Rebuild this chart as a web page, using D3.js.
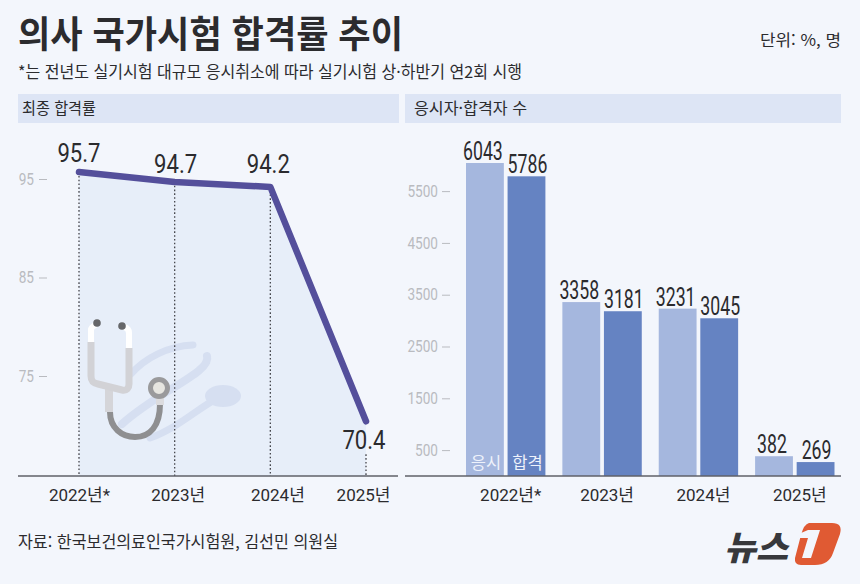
<!DOCTYPE html>
<html lang="ko">
<head>
<meta charset="utf-8">
<script src="https://cdn.jsdelivr.net/npm/d3@7"></script>
<style>
  html, body { margin: 0; padding: 0; background: #f3f6fc; }
  svg { display: block; }
  text { font-family: "Noto Sans CJK KR", "Noto Sans", sans-serif; }
  .num { font-family: Roboto, sans-serif; }
</style>
</head>
<body>
<div id="chart"></div>
<script>
// data
var rateYears = ["2022년*", "2023년", "2024년", "2025년"];
var rateValues = [95.7, 94.7, 94.2, 70.4];
var rateTicks = [75, 85, 95];

var countYears = ["2022년*", "2023년", "2024년", "2025년"];
var seriesNames = ["응시", "합격"];
var appliedValues = [6043, 3358, 3231, 382];
var passedValues = [5786, 3181, 3045, 269];
var countTicks = [500, 1500, 2500, 3500, 4500, 5500];

var width = 860, height = 584;
var baseY = 476;
var inkColor = "#2b2b2e", tickColor = "#b9bbc0", axisColor = "#5f6068";
var appliedColor = "#a5b7de", passedColor = "#6583c2";

var svg = d3.select("#chart").append("svg")
  .attr("width", width).attr("height", height)
  .attr("viewBox", "0 0 " + width + " " + height);

// squeeze text to a share of its natural width, the source uses a condensed face
function squeeze(sel, factor) {
  sel.each(function() {
    d3.select(this).attr("lengthAdjust", "spacingAndGlyphs")
      .attr("textLength", this.getComputedTextLength() * factor);
  });
}
function fitTo(sel, w) {
  sel.attr("lengthAdjust", "spacingAndGlyphs").attr("textLength", w);
}

// headings
svg.append("text").attr("x", 18).attr("y", 48)
  .attr("font-size", 37).attr("font-weight", 700).attr("fill", inkColor)
  .text("의사 국가시험 합격률 추이").call(fitTo, 385);
svg.append("text").attr("x", 760).attr("y", 46)
  .attr("font-size", 16).attr("fill", inkColor).text("단위: %, 명").call(fitTo, 81);
svg.append("text").attr("x", 18).attr("y", 78)
  .attr("font-size", 16.5).attr("fill", inkColor)
  .text("*는 전년도 실기시험 대규모 응시취소에 따라 실기시험 상·하반기 연2회 시행").call(fitTo, 504);

svg.append("rect").attr("x", 18).attr("y", 94).attr("width", 381).attr("height", 29).attr("fill", "#dde5f5");
svg.append("rect").attr("x", 405).attr("y", 94).attr("width", 436).attr("height", 29).attr("fill", "#dde5f5");
svg.append("text").attr("x", 22).attr("y", 114).attr("font-size", 16).attr("fill", inkColor).text("최종 합격률").call(fitTo, 74);
svg.append("text").attr("x", 414).attr("y", 114).attr("font-size", 16).attr("fill", inkColor).text("응시자·합격자 수").call(fitTo, 113);

// left panel: line
var xRate = d3.scalePoint().domain(rateYears).range([79, 366]);
var yRate = d3.scaleLinear().domain([95, 75]).range([179, 376]);
var rateRows = rateYears.map(function(y, i) { return {year: y, value: rateValues[i]}; });

var area = d3.area()
  .x(function(d) { return xRate(d.year); })
  .y0(baseY)
  .y1(function(d) { return yRate(d.value); });
svg.append("path").datum(rateRows).attr("d", area).attr("fill", "#e7eef9");

drawStethoscope();

svg.selectAll(".drop").data(rateRows).enter().append("line")
  .attr("class", "drop")
  .attr("x1", function(d) { return xRate(d.year); })
  .attr("x2", function(d) { return xRate(d.year); })
  .attr("y1", function(d, i) { return i == 3 ? yRate(d.value) + 33 : yRate(d.value); })
  .attr("y2", baseY)
  .attr("stroke", "#45464c").attr("stroke-width", 1.3).attr("stroke-dasharray", "1.6 2.2");

var line = d3.line()
  .x(function(d) { return xRate(d.year); })
  .y(function(d) { return yRate(d.value); });
svg.append("path").datum(rateRows).attr("d", line)
  .attr("fill", "none").attr("stroke", "#544f9b").attr("stroke-width", 6.5)
  .attr("stroke-linecap", "round").attr("stroke-linejoin", "round");

var rateGap = [10, 9, 14, -28];
var rateNudge = [0, 1, -2, -2];
svg.selectAll(".rate-label").data(rateRows).enter().append("text")
  .attr("class", "num rate-label")
  .attr("x", function(d, i) { return xRate(d.year) + rateNudge[i]; })
  .attr("y", function(d, i) { return yRate(d.value) - rateGap[i]; })
  .attr("text-anchor", "middle").attr("font-size", 26).attr("fill", inkColor)
  .text(function(d) { return d.value.toFixed(1); })
  .call(squeeze, 0.85);

var leftAxis = svg.append("g").attr("transform", "translate(47,0)")
  .call(d3.axisLeft(yRate).tickValues(rateTicks).tickSize(8).tickPadding(5));
styleValueAxis(leftAxis);

var bottomLeft = svg.append("g").attr("transform", "translate(0," + baseY + ")")
  .call(d3.axisBottom(xRate).tickSize(0).tickPadding(13));
styleYearAxis(bottomLeft, 18, 398);
var leftLabelNudge = [0, 3, 7, -3];
bottomLeft.selectAll(".tick text").attr("dx", function(d, i) { return leftLabelNudge[i]; });

// right panel: grouped bars
var xCount = d3.scaleBand().domain(countYears).range([466, 834.5]).paddingInner(0.176);
var xSeries = d3.scaleBand().domain(seriesNames).range([0, xCount.bandwidth()]).paddingInner(0.09);
var yCount = d3.scaleLinear().domain([0, 6043]).range([baseY, 163]);

var countRows = countYears.map(function(y, i) {
  return {year: y, values: [
    {name: seriesNames[0], value: appliedValues[i], color: appliedColor},
    {name: seriesNames[1], value: passedValues[i], color: passedColor}
  ]};
});

var groups = svg.selectAll(".group").data(countRows).enter().append("g")
  .attr("class", "group")
  .attr("transform", function(d) { return "translate(" + xCount(d.year) + ",0)"; });

groups.selectAll("rect").data(function(d) { return d.values; }).enter().append("rect")
  .attr("x", function(d) { return xSeries(d.name); })
  .attr("y", function(d) { return yCount(d.value); })
  .attr("width", xSeries.bandwidth())
  .attr("height", function(d) { return baseY - yCount(d.value); })
  .attr("fill", function(d) { return d.color; });

groups.selectAll(".bar-label").data(function(d) { return d.values; }).enter().append("text")
  .attr("class", "num bar-label")
  .attr("x", function(d) { return xSeries(d.name) + xSeries.bandwidth() / 2; })
  .attr("dx", function(d) { return d.name == seriesNames[0] ? -2 : 1; })
  .attr("y", function(d) { return yCount(d.value) - 3; })
  .attr("text-anchor", "middle").attr("font-size", 26).attr("fill", inkColor)
  .text(function(d) { return d.value; })
  .call(squeeze, 0.68);

// series names sit inside the first pair of bars
svg.selectAll(".series-name").data(seriesNames).enter().append("text")
  .attr("class", "series-name")
  .attr("x", function(d) { return xCount(countYears[0]) + xSeries(d) + xSeries.bandwidth() / 2 + 1; })
  .attr("y", 469).attr("text-anchor", "middle")
  .attr("font-size", 16.5).attr("fill", "#eef2fb")
  .text(function(d) { return d; });

var rightAxis = svg.append("g").attr("transform", "translate(450,0)")
  .call(d3.axisLeft(yCount).tickValues(countTicks).tickFormat(d3.format("d")).tickSize(8).tickPadding(4));
styleValueAxis(rightAxis);

var bottomRight = svg.append("g").attr("transform", "translate(0," + baseY + ")")
  .call(d3.axisBottom(xCount).tickSize(0).tickPadding(13));
styleYearAxis(bottomRight, 405, 841);
bottomRight.selectAll(".tick text").attr("dx", 5);

// footer
svg.append("text").attr("x", 18).attr("y", 548).attr("font-size", 16.5).attr("fill", inkColor)
  .text("자료: 한국보건의료인국가시험원, 김선민 의원실").call(fitTo, 320);

drawLogo();

function styleValueAxis(g) {
  g.select(".domain").remove();
  g.selectAll(".tick line").attr("stroke", tickColor);
  g.selectAll(".tick text").attr("class", "num").attr("fill", tickColor).attr("font-size", 16).call(squeeze, 0.85);
}

function styleYearAxis(g, x0, x1) {
  g.select(".domain").attr("d", "M" + x0 + ",0H" + x1).attr("stroke", axisColor).attr("stroke-width", 1.5);
  g.selectAll(".tick text").attr("fill", inkColor).attr("font-size", 17)
    .style("font-family", "Roboto, 'Noto Sans CJK KR', sans-serif");
}

function drawStethoscope() {
  var g = svg.append("g").attr("fill", "none").attr("stroke-linecap", "round");
  var shadow = "#d6dff1";
  // soft shadow behind the instrument
  g.append("path").attr("d", "M193,345C168,346 145,358 131,374").attr("stroke", shadow).attr("stroke-width", 7);
  g.append("path").attr("d", "M207,356C212,372 160,390 122,424").attr("stroke", shadow).attr("stroke-width", 8);
  g.append("path").attr("d", "M218,398C198,408 178,428 150,438").attr("stroke", shadow).attr("stroke-width", 7);
  g.append("ellipse").attr("cx", 223).attr("cy", 396).attr("rx", 18).attr("ry", 11).attr("fill", shadow);

  // tubes
  g.append("path").attr("d", "M110,412C110,428 122,437 135,437C150,437 160,426 160,404")
    .attr("stroke", "#8f8f91").attr("stroke-width", 6).attr("stroke-linecap", "butt");
  g.append("path").attr("d", "M109,388V412").attr("stroke", "#d5d5d9").attr("stroke-width", 8).attr("stroke-linecap", "butt");
  g.append("path").attr("d", "M91,342V376C91,381 93,383 98,384L122,390C127,391 129,388 129,384V348")
    .attr("stroke", "#d2d2d6").attr("stroke-width", 7).attr("stroke-linecap", "butt");
  g.append("path").attr("d", "M91,342V330C91,327 93,326 96,325").attr("stroke", "#ffffff").attr("stroke-width", 6).attr("stroke-linecap", "butt");
  g.append("path").attr("d", "M129,348V333C129,330 128,328 124,327").attr("stroke", "#ffffff").attr("stroke-width", 6).attr("stroke-linecap", "butt");
  g.append("circle").attr("cx", 97).attr("cy", 323).attr("r", 3.8).attr("fill", "#66676a");
  g.append("circle").attr("cx", 122).attr("cy", 326).attr("r", 3.8).attr("fill", "#66676a");

  // chest piece
  g.append("rect").attr("x", 156).attr("y", 396).attr("width", 8).attr("height", 9).attr("fill", "#dcdcdf");
  g.append("circle").attr("cx", 159).attr("cy", 388).attr("r", 8.5).attr("fill", "#e6e5e0").attr("stroke", "#9a9a9c").attr("stroke-width", 5);
}

function drawLogo() {
  var g = svg.append("g");
  g.append("text").attr("x", 724).attr("y", 560)
    .attr("font-size", 34).attr("font-weight", 900).attr("fill", "#37383c")
    .attr("font-style", "italic").text("뉴스").call(fitTo, 64);
  g.append("path")
    .attr("d", "M809,523H832Q843,523 840,534L833,553Q829,565 815,565H801Q794,565 795,558L801,535Q804,524 809,523Z")
    .attr("fill", "#e05a33");
  g.append("path").attr("d", "M808,530H820L811,558H802L808,538H799L801,533Z").attr("fill", "#f3f6fc");
}
</script>
</body>
</html>
